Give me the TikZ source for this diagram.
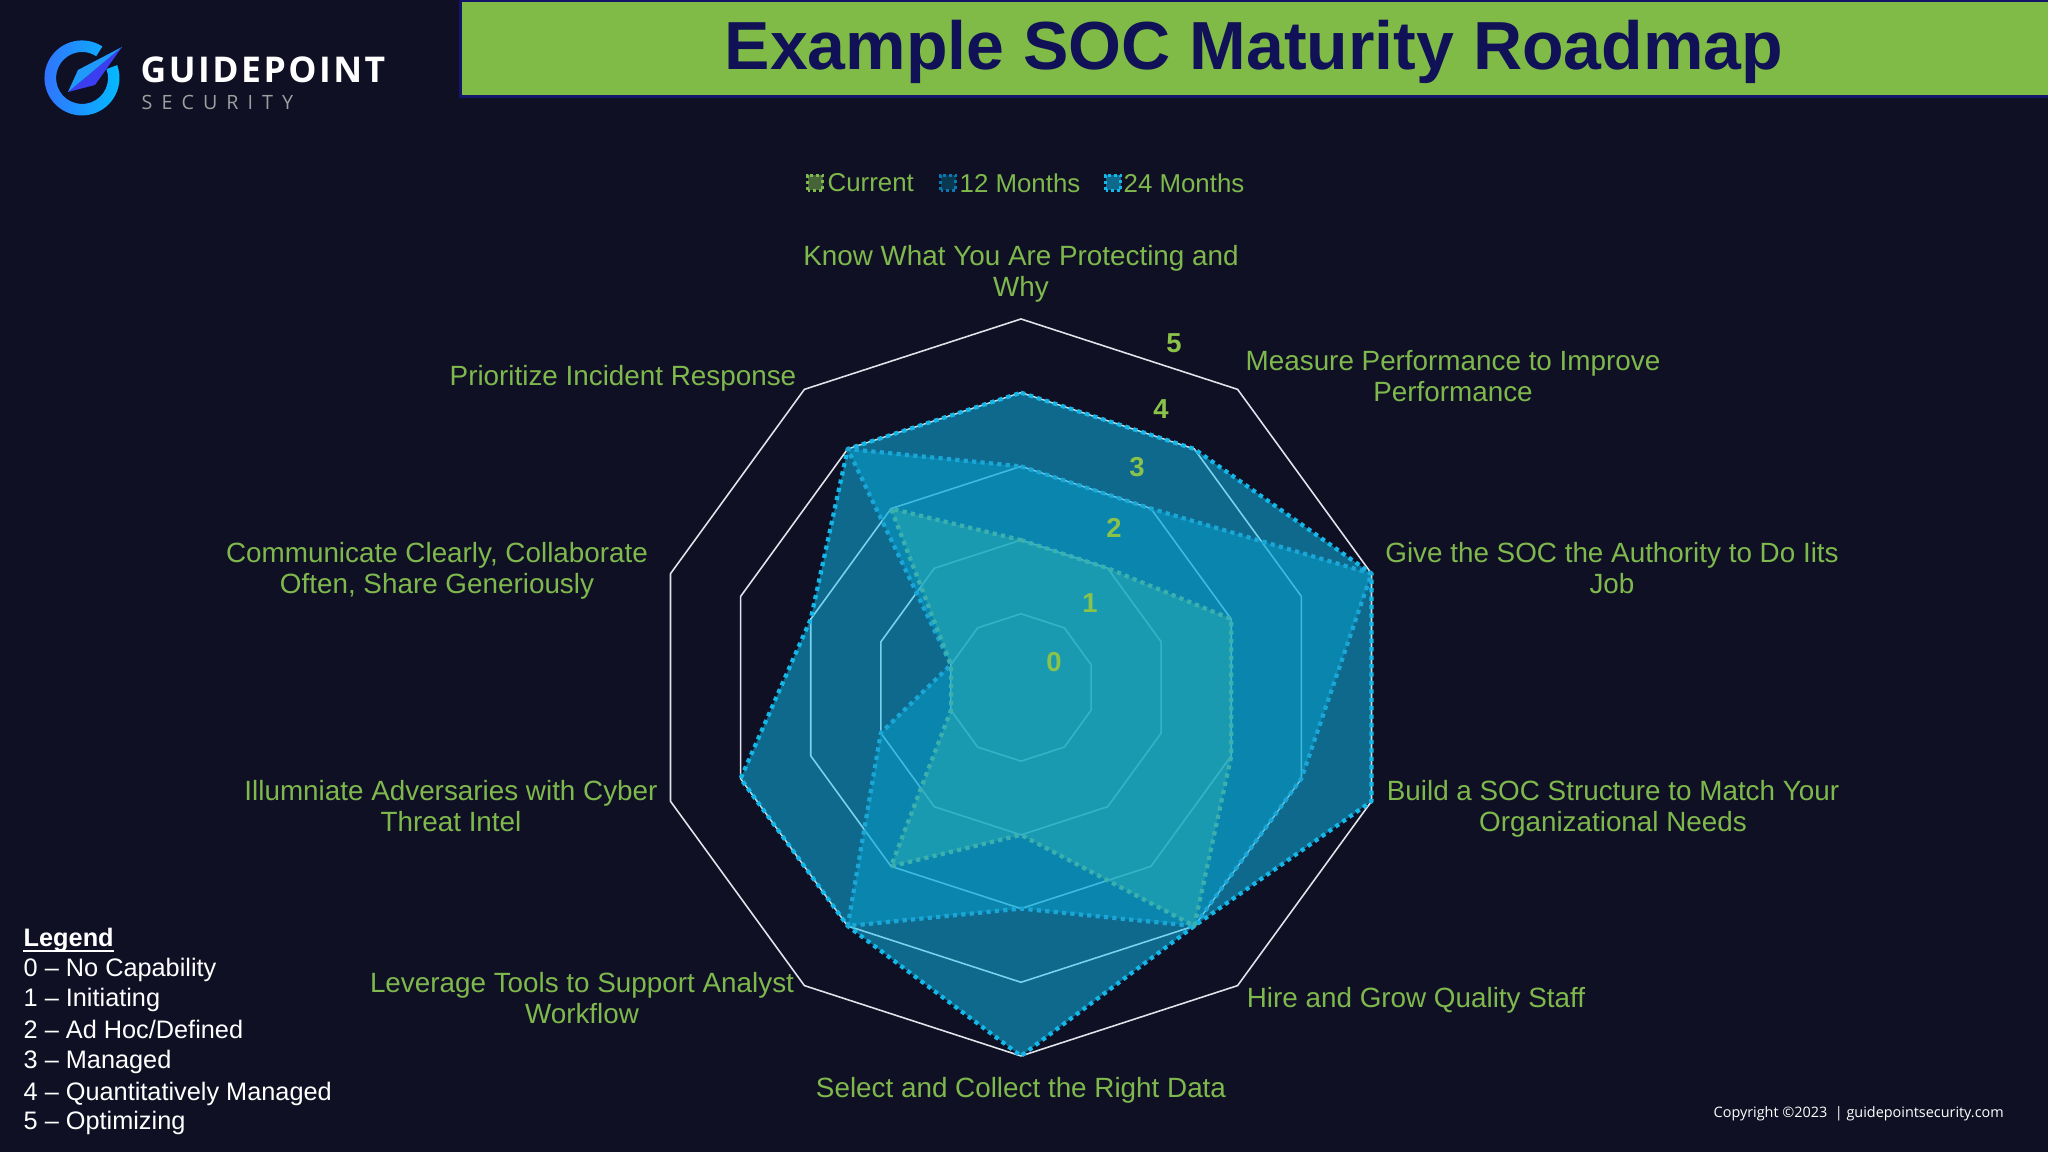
\documentclass[tikz,border=0pt]{standalone}
\usepackage{fontspec}
\setmainfont{Liberation Sans}
\newfontfamily\logofont[LetterSpace=7]{Open Sans}
\newfontfamily\logosubfont[LetterSpace=46]{Open Sans}
\newfontfamily\copyfont{Open Sans}
\definecolor{pagebg}{HTML}{0F1024}
\definecolor{bargreen}{HTML}{7FBB46}
\definecolor{barnavy}{HTML}{14146A}
\definecolor{titlenavy}{HTML}{111158}
\definecolor{labelgreen}{HTML}{7FB84C}
\definecolor{digitgreen}{HTML}{8BC34A}
\definecolor{ringgray}{HTML}{E0E4EA}
\definecolor{currentfill}{HTML}{2BAFB2}
\definecolor{currentline}{HTML}{3BB0AE}
\definecolor{twelvefill}{HTML}{07A1D0}
\definecolor{twelveline}{HTML}{1AA6D6}
\definecolor{twelvekeyline}{HTML}{0878B0}
\definecolor{twentyfourfill}{HTML}{0FC2F4}
\definecolor{twentyfourline}{HTML}{14B8E8}
\definecolor{needlelight}{HTML}{1F9AFB}
\definecolor{needledark}{HTML}{3A3DF0}
\tikzset{
  axislabel/.style={text=labelgreen,align=center,inner sep=0pt,font=\fontsize{7.92}{8.9}\selectfont},
  keylabel/.style={text=labelgreen,anchor=west,inner sep=0pt,font=\fontsize{7.35}{8.9}\selectfont},
  scalelabel/.style={text=digitgreen,inner sep=0pt,font=\fontsize{7.8}{8.9}\selectfont\bfseries},
  legendline/.style={text=white,anchor=base west,inner sep=0pt,font=\fontsize{7.2}{8.7}\selectfont},
  ringline/.style={ringgray,line width=0.45pt,line join=round},
  seriesline/.style={line width=1.2pt,dash pattern=on 1.2pt off 1.2pt,line join=round,fill opacity=0.5},
  swatch/.style={minimum size=0.15cm,inner sep=0pt,line width=0.8pt,dash pattern=on 0.8pt off 0.8pt,fill opacity=0.5}
}
\begin{document}
\begin{tikzpicture}

\def\UNIT{0.737}
	\useasboundingbox (0,0) rectangle (20.48,11.52);
	\fill[pagebg] (0,0) rectangle (20.48,11.52);

	% title bar
	\node[draw=barnavy,fill=bargreen,line width=0.8pt,minimum width=15.9cm,minimum height=0.96cm,inner sep=0pt,anchor=north west] (titlebar) at (4.59,11.53) {};
	\node[text=titlenavy,inner sep=0pt,font=\fontsize{19.36}{24}\selectfont\bfseries] (titletext) at (12.54,11.00) {Example SOC Maturity Roadmap};

	% logo
	\begin{scope}
	\clip (0.82+0.204,10.74+0.315)
		arc[start angle=57,end angle=380,radius=0.375] -- (0.82+0.245,10.74+0.089)
		arc[start angle=20,delta angle=-323,radius=0.26] -- cycle;
	\shade[left color=blue!70!cyan!80!white,right color=cyan!75!blue] (0.4,10.3) rectangle (1.25,11.2);
	\end{scope}
	\fill[needledark] (1.22,11.05) -- (0.68,10.60) -- (0.95,10.67) -- cycle;
	\fill[needlelight] (1.22,11.05) -- (0.78,10.82) -- (0.68,10.60) -- cycle;
	\node[text=white,anchor=west,inner sep=0pt,font=\logofont\fontsize{10.1}{12}\selectfont\bfseries] (logomain) at (1.40,10.82) {GUIDEPOINT};
	\node[text=gray!75,anchor=west,inner sep=0pt,font=\logosubfont\fontsize{5.6}{7}\selectfont] (logosub) at (1.41,10.50) {SECURITY};

	% rings
\begin{scope}[shift={(10.21,4.645)}]
	\draw[ringline] (90:1*\UNIT) -- (54:1*\UNIT) -- (18:1*\UNIT) -- (-18:1*\UNIT) -- (-54:1*\UNIT) -- (-90:1*\UNIT) -- (-126:1*\UNIT) -- (-162:1*\UNIT) -- (162:1*\UNIT) -- (126:1*\UNIT) -- cycle;
	\draw[ringline] (90:2*\UNIT) -- (54:2*\UNIT) -- (18:2*\UNIT) -- (-18:2*\UNIT) -- (-54:2*\UNIT) -- (-90:2*\UNIT) -- (-126:2*\UNIT) -- (-162:2*\UNIT) -- (162:2*\UNIT) -- (126:2*\UNIT) -- cycle;
	\draw[ringline] (90:3*\UNIT) -- (54:3*\UNIT) -- (18:3*\UNIT) -- (-18:3*\UNIT) -- (-54:3*\UNIT) -- (-90:3*\UNIT) -- (-126:3*\UNIT) -- (-162:3*\UNIT) -- (162:3*\UNIT) -- (126:3*\UNIT) -- cycle;
	\draw[ringline] (90:4*\UNIT) -- (54:4*\UNIT) -- (18:4*\UNIT) -- (-18:4*\UNIT) -- (-54:4*\UNIT) -- (-90:4*\UNIT) -- (-126:4*\UNIT) -- (-162:4*\UNIT) -- (162:4*\UNIT) -- (126:4*\UNIT) -- cycle;
	\draw[ringline] (90:5*\UNIT) -- (54:5*\UNIT) -- (18:5*\UNIT) -- (-18:5*\UNIT) -- (-54:5*\UNIT) -- (-90:5*\UNIT) -- (-126:5*\UNIT) -- (-162:5*\UNIT) -- (162:5*\UNIT) -- (126:5*\UNIT) -- cycle;

	% series
	\filldraw[seriesline,draw=twentyfourline,fill=twentyfourfill] (90:4*\UNIT) -- (54:4*\UNIT) -- (18:5*\UNIT) -- (-18:5*\UNIT) -- (-54:4*\UNIT) -- (-90:5*\UNIT) -- (-126:4*\UNIT) -- (-162:4*\UNIT) -- (162:3*\UNIT) -- (126:4*\UNIT) -- cycle;
	\filldraw[seriesline,draw=twelveline,fill=twelvefill] (90:3*\UNIT) -- (54:3*\UNIT) -- (18:5*\UNIT) -- (-18:4*\UNIT) -- (-54:4*\UNIT) -- (-90:3*\UNIT) -- (-126:4*\UNIT) -- (-162:2*\UNIT) -- (162:1*\UNIT) -- (126:4*\UNIT) -- cycle;
	\filldraw[seriesline,draw=currentline,fill=currentfill] (90:2*\UNIT) -- (54:2*\UNIT) -- (18:3*\UNIT) -- (-18:3*\UNIT) -- (-54:4*\UNIT) -- (-90:2*\UNIT) -- (-126:3*\UNIT) -- (-162:1*\UNIT) -- (162:1*\UNIT) -- (126:3*\UNIT) -- cycle;
\end{scope}

	% scale numbers
	\node[scalelabel] (scalezero) at (10.54,4.90) {0};
	\node[scalelabel] (scaleone) at (10.90,5.49) {1};
	\node[scalelabel] (scaletwo) at (11.14,6.24) {2};
	\node[scalelabel] (scalethree) at (11.37,6.85) {3};
	\node[scalelabel] (scalefour) at (11.61,7.43) {4};
	\node[scalelabel] (scalefive) at (11.74,8.09) {5};

	% axis labels
	\node[axislabel] (knowlabel) at (10.21,8.785) {Know What You Are Protecting and\\Why};
	\node[axislabel] (measurelabel) at (14.53,7.76) {Measure Performance to Improve\\Performance};
	\node[axislabel] (authoritylabel) at (16.12,5.84) {Give the SOC the Authority to Do Iits\\Job};
	\node[axislabel] (structurelabel) at (16.13,3.435) {Build a SOC Structure to Match Your\\Organizational Needs};
	\node[axislabel] (hirelabel) at (14.16,1.515) {Hire and Grow Quality Staff};
	\node[axislabel] (datalabel) at (10.21,0.615) {Select and Collect the Right Data};
	\node[axislabel] (toolslabel) at (5.82,1.54) {Leverage Tools to Support Analyst\\Workflow};
	\node[axislabel] (intellabel) at (4.51,3.46) {Illumniate Adversaries with Cyber\\Threat Intel};
	\node[axislabel] (clearlabel) at (4.37,5.815) {Communicate Clearly, Collaborate\\Often, Share Generiously};
	\node[axislabel] (incidentlabel) at (6.23,7.735) {Prioritize Incident Response};

	% series key
	\node[swatch,draw=labelgreen,fill=labelgreen] (currentkey) at (8.15,9.69) {};
	\node[keylabel] (currenttext) at (8.27,9.69) {Current};
	\node[swatch,draw=twelvekeyline,fill=twelvefill!60!black] (twelvekey) at (9.48,9.69) {};
	\node[keylabel] (twelvetext) at (9.59,9.69) {12 Months};
	\node[swatch,draw=twentyfourline,fill=twentyfourfill] (twentyfourkey) at (11.13,9.69) {};
	\node[keylabel] (twentyfourtext) at (11.23,9.69) {24 Months};

	% legend
	\node[legendline] (legendhead) at (0.23,2.05) {\bfseries Legend};
	\draw[white,line width=0.4pt] ([yshift=-1.1pt]legendhead.base west) -- ([yshift=-1.1pt]legendhead.base east);
	\node[legendline] (legendzero) at (0.23,1.753) {0 – No Capability};
	\node[legendline] (legendone) at (0.23,1.453) {1 – Initiating};
	\node[legendline] (legendtwo) at (0.23,1.13) {2 – Ad Hoc/Defined};
	\node[legendline] (legendthree) at (0.23,0.833) {3 – Managed};
	\node[legendline] (legendfour) at (0.23,0.513) {4 – Quantitatively Managed};
	\node[legendline] (legendfive) at (0.23,0.22) {5 – Optimizing};

	\node[text=white,anchor=west,inner sep=0pt,font=\copyfont\fontsize{4.1}{5}\selectfont] (copyrightnote) at (17.13,0.385) {Copyright ©2023 ~| guidepointsecurity.com};

\end{tikzpicture}
\end{document}
